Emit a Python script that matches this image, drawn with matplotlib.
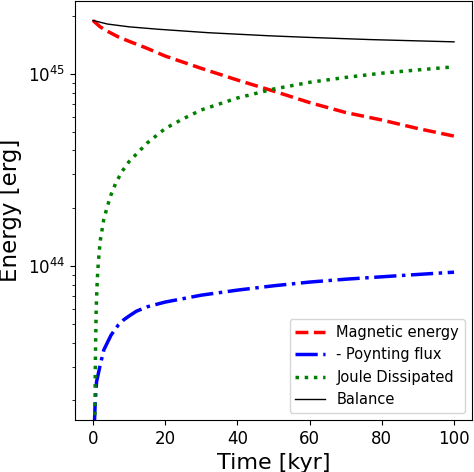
from matplotlib import pyplot as plt

# values (time in kyr, energy in erg)
t_mag = [0, 2, 4, 7, 10, 15, 20, 30, 40, 50, 60, 70, 80, 90, 100]
e_mag = [1.90e45, 1.76e45, 1.67e45, 1.56e45, 1.48e45, 1.36e45, 1.24e45, 1.07e45,
         9.3e44, 8.15e44, 7.1e44, 6.3e44, 5.76e44, 5.2e44, 4.75e44]

t_poy = [0.4, 0.6, 1, 2, 3, 5, 7, 8.5, 10, 12, 15, 20, 30, 40, 50, 60, 70, 80, 90, 100]
e_poy = [1.5e43, 1.9e43, 2.5e43, 3.05e43, 3.66e43, 4.37e43, 4.93e43, 5.25e43, 5.5e43,
         5.82e43, 6.14e43, 6.5e43, 7.06e43, 7.5e43, 7.9e43, 8.26e43, 8.55e43, 8.8e43,
         9.05e43, 9.3e43]

t_joule = [0.5, 0.7, 0.9, 1.2, 1.5, 2, 3, 4, 5, 6.3, 8, 10, 15, 20, 25, 30, 40,
           50, 60, 70, 80, 90, 100]
e_joule = [1.5e43, 3.5e43, 6.0e43, 8.5e43, 1.05e44, 1.35e44, 1.75e44, 2.05e44, 2.35e44,
           2.7e44, 3.1e44, 3.5e44, 4.37e44, 5.2e44, 5.85e44, 6.5e44, 7.5e44,
           8.35e44, 9.05e44, 9.6e44, 1.01e45, 1.05e45, 1.09e45]

t_bal = [0, 4, 10, 18, 32, 49, 60, 77, 100]
e_bal = [1.90e45, 1.82e45, 1.76e45, 1.71e45, 1.64e45, 1.58e45, 1.55e45, 1.51e45, 1.47e45]

fig = plt.figure(figsize=(4.74, 4.72), dpi=100)
ax = fig.add_subplot(111)
fig.subplots_adjust(left=0.158, right=0.996, bottom=0.110, top=0.998)

ax.plot(t_mag, e_mag, 'r--', lw=2.5, label="Magnetic energy")
ax.plot(t_poy, e_poy, 'b-.', lw=2.5, label="- Poynting flux")
ax.plot(t_joule, e_joule, ':', color='green', lw=2.5, label="Joule Dissipated")
ax.plot(t_bal, e_bal, 'k-', lw=1, label="Balance")

ax.set_yscale('log')
ax.set_ylim(1.58e43, 2.4e45)
ax.set_xlim(-5, 105)
ax.set_xlabel("Time [kyr]", fontsize=16)
ax.set_ylabel("Energy [erg]", fontsize=16.5)
ax.tick_params(labelsize=12)
ax.legend(loc='lower right', fontsize=10.5)

plt.savefig("out.png")
